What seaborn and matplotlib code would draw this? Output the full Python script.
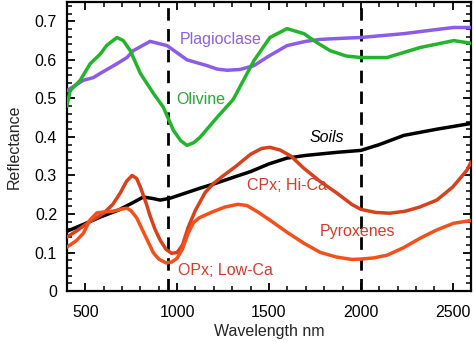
import matplotlib
matplotlib.use("Agg")
import matplotlib.pyplot as plt
from matplotlib.ticker import MultipleLocator
import seaborn as sns
import pandas as pd

# ---- data ----
plag_wl = [400, 490, 545, 582, 673, 727, 762, 853, 945, 1054, 1163, 1218, 1272, 1342, 1418, 1500, 1598, 1700,
           1777, 1900, 2000, 2234, 2400, 2506, 2600]
plag_r = [0.52, 0.547, 0.554, 0.565, 0.59, 0.606, 0.624, 0.648, 0.637, 0.600, 0.585, 0.576, 0.573, 0.575, 0.585,
          0.61, 0.637, 0.648, 0.653, 0.656, 0.658, 0.668, 0.678, 0.684, 0.684]

oliv_wl = [400, 418, 473, 527, 582, 618, 673, 707, 745, 800, 871, 925, 980, 1020, 1054, 1090, 1125, 1218, 1305,
           1418, 1505, 1598, 1690, 1760, 1832, 1920, 2000, 2142, 2322, 2506, 2600]
oliv_r = [0.48, 0.52, 0.547, 0.59, 0.615, 0.638, 0.658, 0.65, 0.624, 0.565, 0.513, 0.477, 0.417, 0.39, 0.378,
          0.385, 0.399, 0.451, 0.497, 0.598, 0.658, 0.681, 0.668, 0.645, 0.624, 0.61, 0.606, 0.606, 0.632, 0.65,
          0.643]

soil_wl = [400, 500, 582, 680, 762, 816, 870, 908, 962, 1050, 1125, 1200, 1305, 1400, 1500, 1598, 1700, 1870,
           2000, 2100, 2234, 2413, 2600]
soil_r = [0.155, 0.175, 0.192, 0.21, 0.23, 0.244, 0.24, 0.236, 0.241, 0.255, 0.267, 0.278, 0.295, 0.31, 0.33,
          0.345, 0.352, 0.36, 0.365, 0.38, 0.404, 0.42, 0.435]

cpx_wl = [400, 450, 511, 560, 600, 650, 690, 725, 755, 780, 800, 830, 853, 880, 908, 940, 970, 1000, 1030, 1060,
          1100, 1153, 1200, 1245, 1315, 1400, 1460, 1505, 1560, 1620, 1691, 1777, 1870, 1950, 2000, 2080, 2157,
          2240, 2320, 2413, 2500, 2576, 2600]
cpx_r = [0.14, 0.155, 0.176, 0.19, 0.202, 0.225, 0.254, 0.285, 0.30, 0.292, 0.27, 0.23, 0.195, 0.16, 0.132,
         0.108, 0.098, 0.10, 0.12, 0.165, 0.21, 0.256, 0.28, 0.297, 0.322, 0.355, 0.37, 0.373, 0.366, 0.35, 0.318,
         0.285, 0.254, 0.225, 0.212, 0.204, 0.202, 0.207, 0.218, 0.236, 0.27, 0.313, 0.335]

opx_wl = [400, 450, 490, 527, 564, 600, 650, 700, 727, 750, 780, 810, 840, 870, 900, 940, 970, 1000, 1030, 1060,
          1090, 1120, 1190, 1260, 1330, 1380, 1440, 1505, 1600, 1690, 1780, 1870, 1950, 2000, 2070, 2142, 2230,
          2322, 2410, 2505, 2600]
opx_r = [0.114, 0.13, 0.15, 0.185, 0.203, 0.205, 0.207, 0.213, 0.215, 0.208, 0.19, 0.16, 0.13, 0.10, 0.083,
         0.073, 0.075, 0.085, 0.11, 0.15, 0.178, 0.19, 0.205, 0.218, 0.225, 0.222, 0.205, 0.184, 0.152, 0.124,
         0.10, 0.088, 0.082, 0.083, 0.086, 0.093, 0.112, 0.137, 0.158, 0.176, 0.183]

band_centers = [950, 2000]
x_ticks = [500, 1000, 1500, 2000, 2500]
y_ticks = [0, 0.1, 0.2, 0.3, 0.4, 0.5, 0.6, 0.7]
y_tick_labels = ["0", "0.1", "0.2", "0.3", "0.4", "0.5", "0.6", "0.7"]

series = [
    ("Plagioclase", plag_wl, plag_r, "#8b5ce8"),
    ("Olivine", oliv_wl, oliv_r, "#22b52a"),
    ("Soils", soil_wl, soil_r, "#000000"),
    ("CPx", cpx_wl, cpx_r, "#d9401c"),
    ("OPx", opx_wl, opx_r, "#f5501a"),
]

sns.set_style("ticks")
plt.rcParams["font.family"] = ["Liberation Sans", "DejaVu Sans"]

fig = plt.figure(figsize=(4.74, 3.42), dpi=100)
ax = fig.add_axes([0.141, 0.149, 0.853, 0.845])

for xv in band_centers:
    ax.axvline(xv, color="black", lw=2.0, ls=(0, (4.5, 3)), zorder=1)

for name, wl, r, col in series:
    df = pd.DataFrame({"wl": wl, "r": r})
    sns.lineplot(data=df, x="wl", y="r", ax=ax, color=col, lw=2.5, zorder=3)

fs = 11.5
ax.text(1012, 0.653, "Plagioclase", color="#9060e0", fontsize=fs, va="center")
ax.text(995, 0.497, "Olivine", color="#2aa83a", fontsize=fs, va="center")
ax.text(1718, 0.399, "Soils", color="black", fontsize=fs, va="center", style="italic")
ax.text(1380, 0.275, "CPx; Hi-Ca", color="#d83a2a", fontsize=fs, va="center")
ax.text(1777, 0.155, "Pyroxenes", color="#d83a2a", fontsize=fs, va="center")
ax.text(1003, 0.054, "OPx; Low-Ca", color="#d83a2a", fontsize=fs, va="center")

ax.set_xlim(400, 2600)
ax.set_ylim(0, 0.75)
ax.set_xticks(x_ticks)
ax.set_yticks(y_ticks)
ax.set_yticklabels(y_tick_labels)
ax.xaxis.set_minor_locator(MultipleLocator(100))
ax.yaxis.set_minor_locator(MultipleLocator(0.02))
ax.tick_params(which="both", direction="in", top=True, right=True, labelsize=fs, colors="black")
ax.tick_params(which="major", length=6, width=1.3)
ax.tick_params(which="minor", length=3.5, width=1.1)
ax.tick_params(axis="x", pad=10)
ax.tick_params(axis="y", pad=7)
for s in ax.spines.values():
    s.set_linewidth(1.6)
    s.set_color("black")
ax.set_xlabel("Wavelength nm", fontsize=fs, labelpad=3)
ax.set_ylabel("Reflectance", fontsize=fs, labelpad=9)

fig.savefig("out.png", dpi=100)
